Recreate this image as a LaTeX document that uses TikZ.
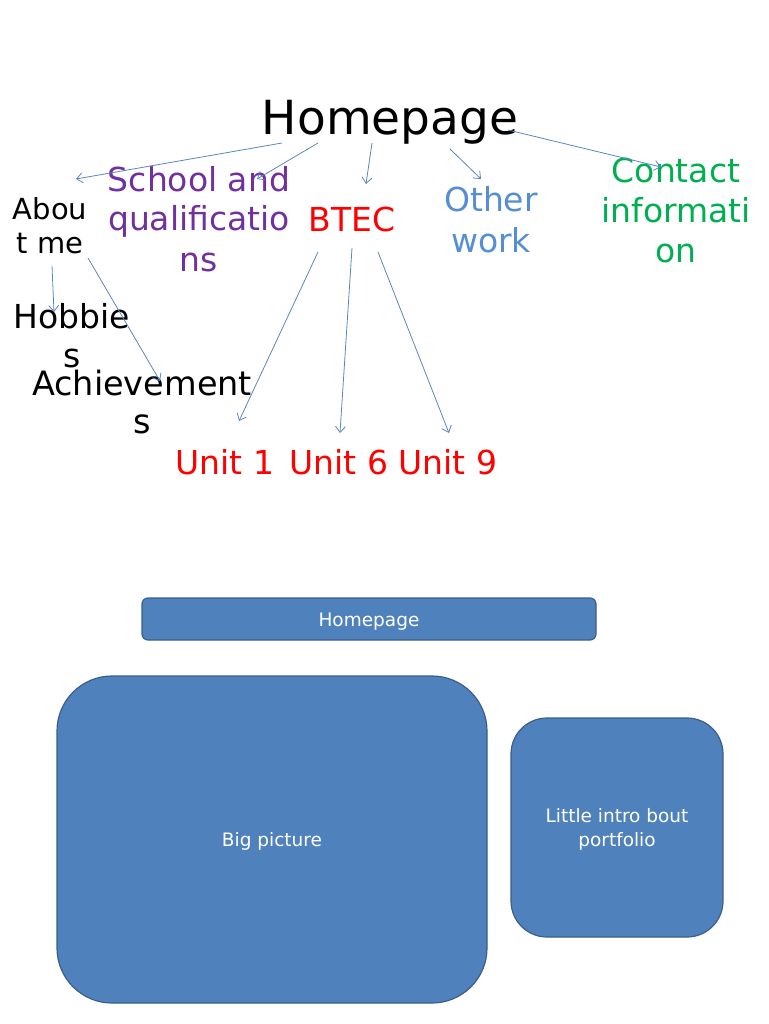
\documentclass[tikz,border=0pt]{standalone}
\usepackage{fontspec}
\setmainfont{DejaVu Sans}
\usetikzlibrary{arrows.meta}
\definecolor{conn}{HTML}{5B86C0}
\definecolor{boxfill}{HTML}{4F81BD}
\definecolor{boxline}{HTML}{3A5F8B}
\definecolor{purp}{HTML}{7030A0}
\definecolor{redt}{HTML}{FF0000}
\definecolor{bluet}{HTML}{558ED5}
\definecolor{greent}{HTML}{00B050}
\tikzset{
  lbl/.style={inner sep=0pt, align=center, anchor=base, font=\fontsize{33}{40}\selectfont},
  conn/.style={draw=conn, line width=0.8pt, -{Straight Barb[length=6pt,width=10pt]}},
  bbox/.style={draw=boxline, line width=1.2pt, fill=boxfill, text=white, font=\fontsize{18.5}{24}\selectfont, align=center},
  btxt/.style={text=white, font=\fontsize{18.5}{24}\selectfont, align=center, inner sep=0pt}
}
\begin{document}
\begin{tikzpicture}[x=1pt,y=-1pt]
\useasboundingbox (0,0) rectangle (768,1024);
% top labels (base anchor = baseline of the last line)
\node[lbl, font=\fontsize{47}{56}\selectfont] (home) at (390,135) {Homepage};
\node[lbl, font=\fontsize{29}{33}\selectfont] (about) at (50,253) {Abou\\t me};
\node[lbl, text=purp] (school) at (199,271) {School and\\qualificatio\\ns};
\node[lbl, text=redt] (btec) at (352,232) {BTEC};
\node[lbl, text=bluet] (other) at (491,252) {Other\\work};
\node[lbl, text=greent] (contact) at (676,262) {Contact\\informati\\on};
\node[lbl, font=\fontsize{33}{39}\selectfont] (hobbies) at (72,367) {Hobbie\\s};
\node[lbl, font=\fontsize{33.5}{38}\selectfont] (achieve) at (142,433) {Achievement\\s};
\node[lbl, text=redt] (u1) at (225,474) {Unit 1};
\node[lbl, text=redt] (u6) at (339,474) {Unit 6};
\node[lbl, text=redt] (u9) at (448,474) {Unit 9};
% connector end points
\coordinate (h1) at (282,143); \coordinate (a1) at (76,179);
\coordinate (h2) at (318,143); \coordinate (s1) at (257,179);
\coordinate (h3) at (372,143); \coordinate (b1) at (366,184);
\coordinate (h4) at (450,149); \coordinate (o1) at (481,179);
\coordinate (h5) at (508,130); \coordinate (c1) at (661,167);
\coordinate (a2) at (52,266); \coordinate (hb1) at (54,312);
\coordinate (a3) at (88,258); \coordinate (ac1) at (160,381);
\coordinate (b2) at (318,252); \coordinate (u1t) at (239,421);
\coordinate (b3) at (352,248); \coordinate (u6t) at (340,433);
\coordinate (b4) at (378,252); \coordinate (u9t) at (449,433);
\draw[conn] (h1) -- (a1);
\draw[conn] (h2) -- (s1);
\draw[conn] (h3) -- (b1);
\draw[conn] (h4) -- (o1);
\draw[conn] (h5) -- (c1);
\draw[conn] (a2) -- (hb1);
\draw[conn] (a3) -- (ac1);
\draw[conn] (b2) -- (u1t);
\draw[conn] (b3) -- (u6t);
\draw[conn] (b4) -- (u9t);
% bottom layout boxes
\node[bbox, rounded corners=6pt, minimum width=454pt, minimum height=42pt] (hpbar) at (369,619) {};
\node[btxt] (hpbarT) at (369,621.5) {Homepage};
\node[bbox, rounded corners=55pt, minimum width=430pt, minimum height=327pt] (bigpic) at (272,839.5) {};
\node[btxt] (bigpicT) at (272,841.5) {Big picture};
\node[bbox, rounded corners=36pt, minimum width=212pt, minimum height=219pt] (intro) at (617,827.5) {};
\node[btxt] (introT) at (617,829.5) {Little intro bout\\portfolio};
\end{tikzpicture}
\end{document}
